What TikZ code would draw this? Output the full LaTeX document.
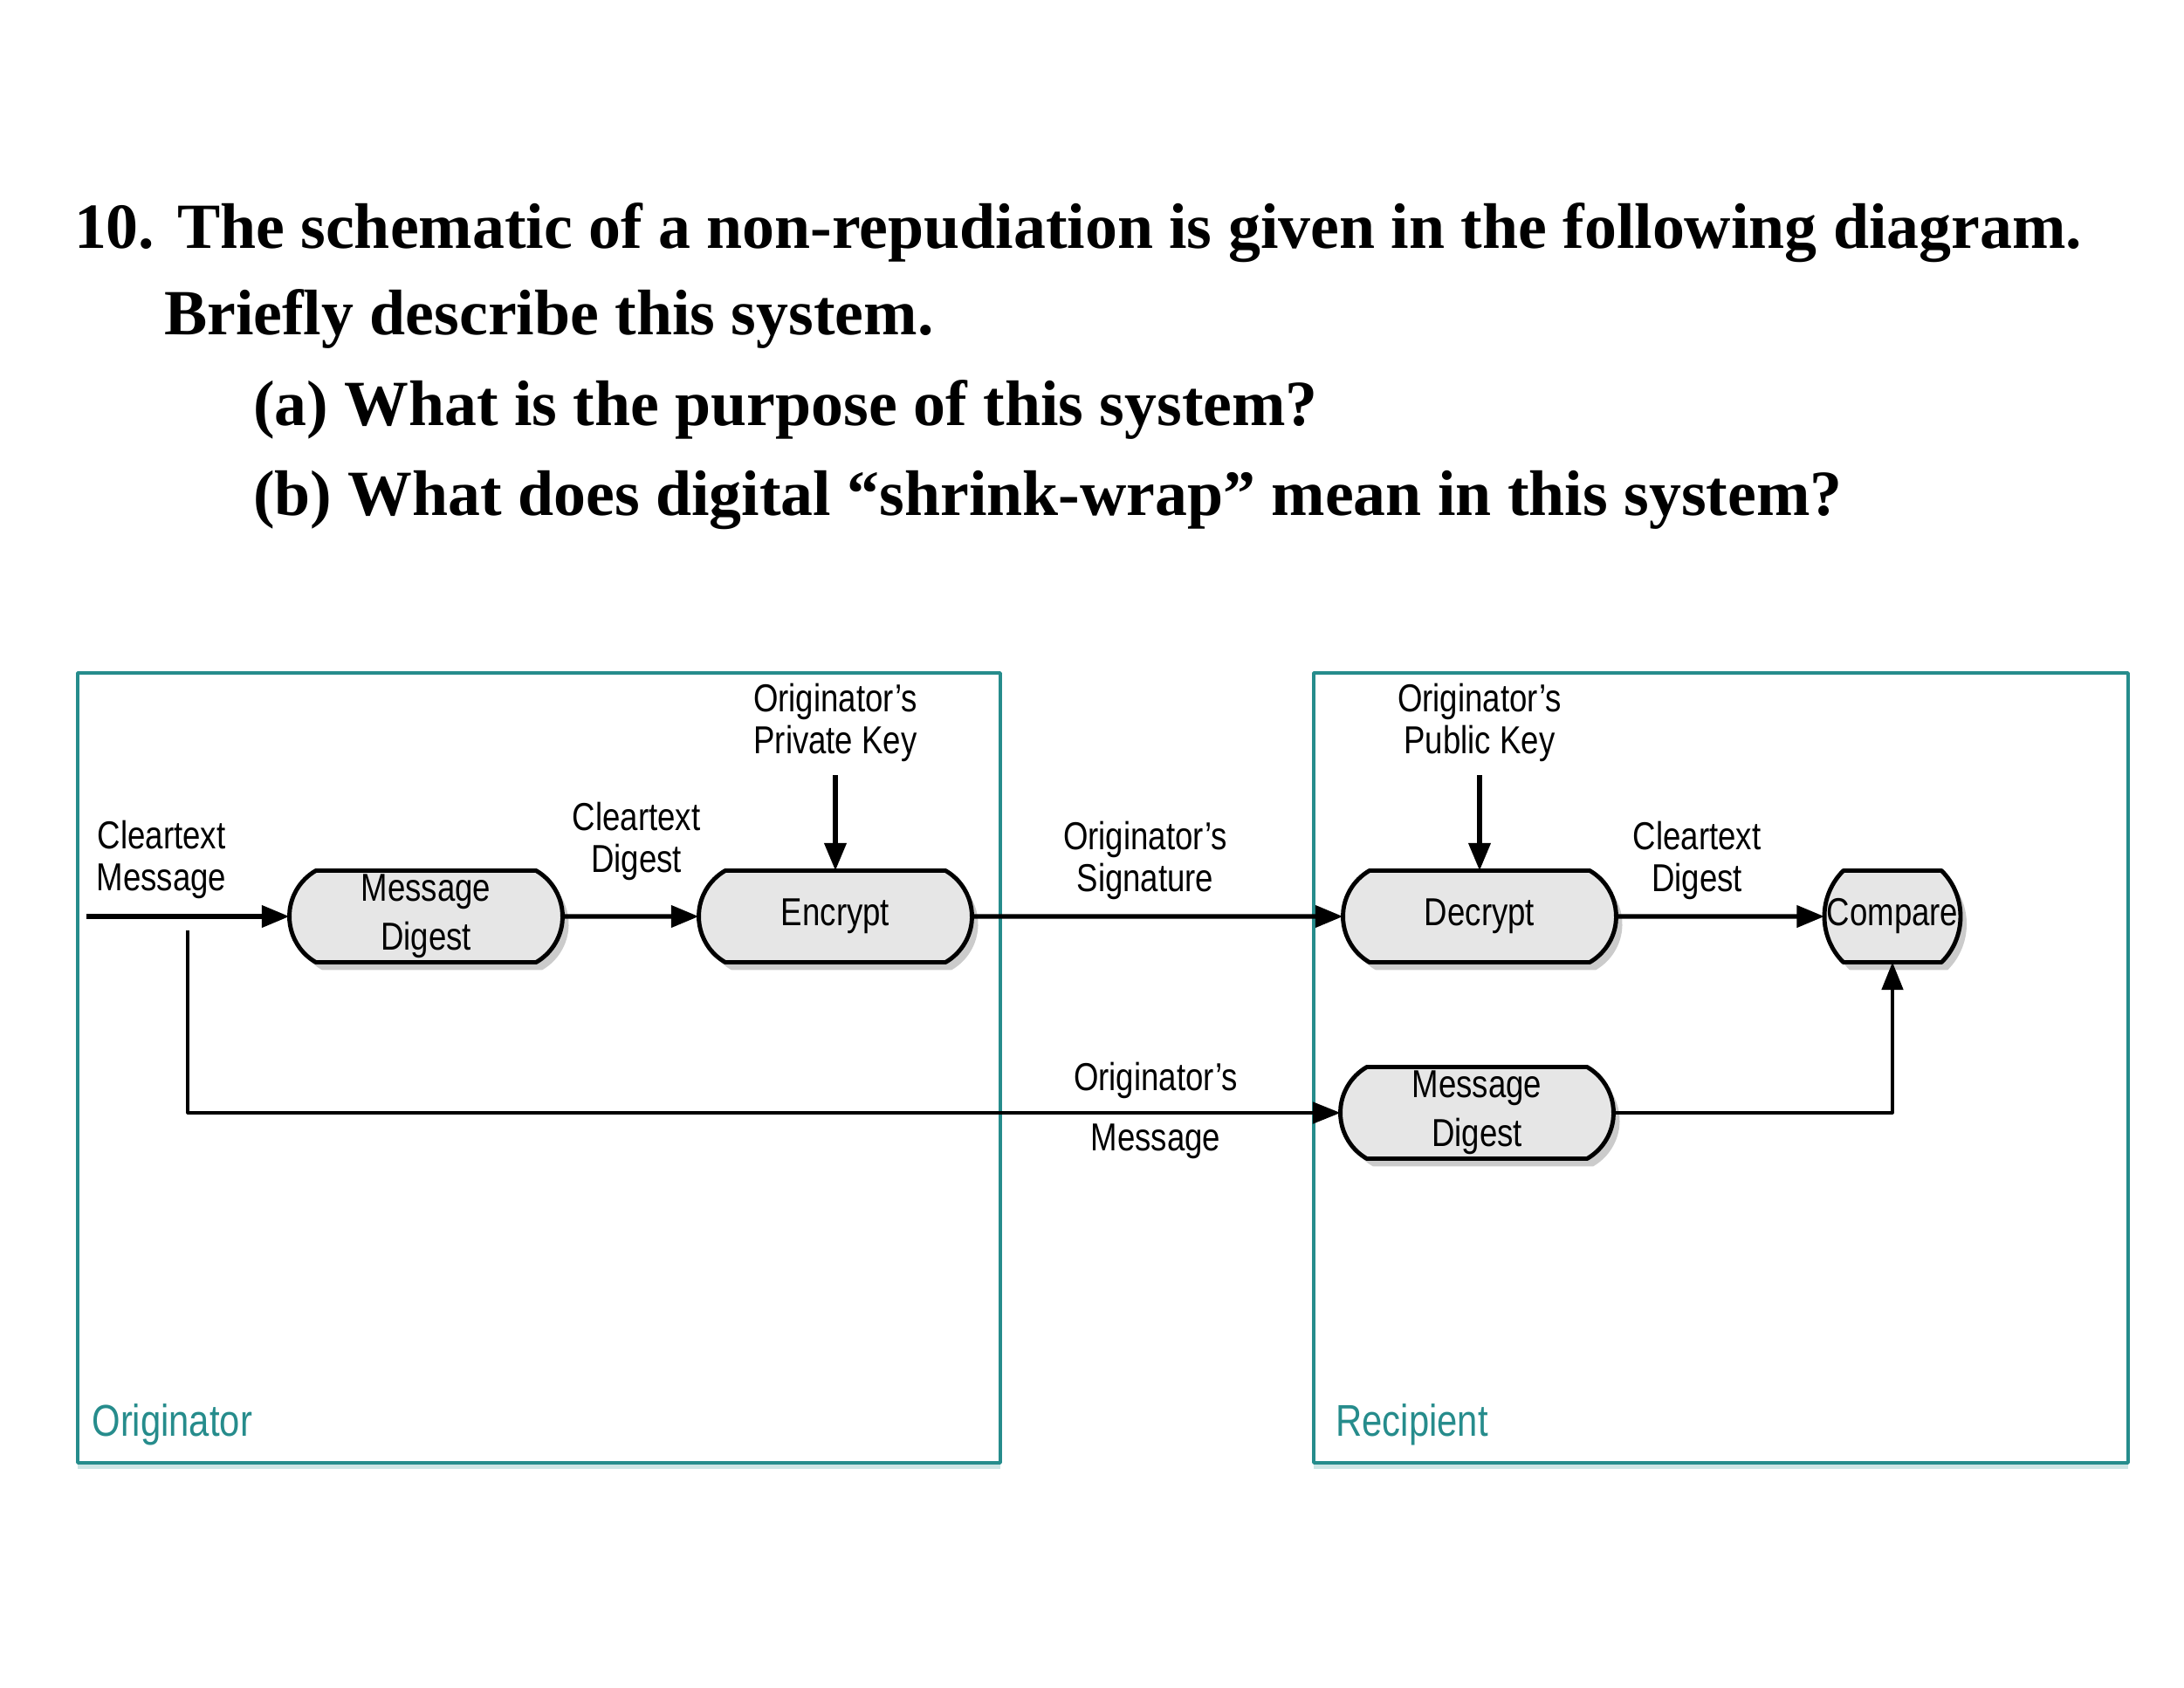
\documentclass[tikz,border=0pt]{standalone}
\usepackage{fontspec}
\setmainfont{Liberation Serif}
\newfontfamily\diagfont[FakeStretch=0.82]{Liberation Sans}
\usetikzlibrary{
    arrows.meta,
    calc,
    positioning,
    shadows,
    shapes.misc
}
\definecolor{frameteal}{RGB}{38,140,140}
\definecolor{boxgray}{RGB}{230,230,230}
\tikzset{
    every picture/.style = {
        > = {Triangle[length=9pt, width=7pt]},
        line join = round
    },
    every node/.style = {
        inner sep = 1pt,
        outer sep = 0pt,
        align = center,
        font = \diagfont\fontsize{12.7}{13.6}\selectfont
    },
    process/.style = {
        rounded rectangle,
        rounded rectangle arc length = 120,
        draw,
        line width = 1.4pt,
        fill = boxgray,
        minimum width = 3.2cm,
        minimum height = 1.05cm,
        drop shadow = {shadow xshift = 2pt, shadow yshift = -2.5pt, fill = black!40}
    },
    frame/.style = {
        draw = frameteal,
        line width = 1pt,
        fill = white,
        drop shadow = {shadow xshift = 0pt, shadow yshift = -2pt, fill = frameteal!45}
    },
    flow/.style = {->, line width = 1.5pt},
    thinflow/.style = {->, line width = 0.9pt},
    question/.style = {
        anchor = base west,
        inner sep = 0pt,
        font = \bfseries\fontsize{21}{28}\selectfont
    },
    partname/.style = {
        anchor = west,
        text = frameteal,
        font = \diagfont\fontsize{14.5}{16}\selectfont
    }
}

\begin{document}
\begin{tikzpicture}
    \useasboundingbox (0,0) rectangle (25.02,-19.33);

    % question text
    \node[question] (qnum)   at (0.85,-2.84) {10.};
    \node[question] (qline1) at (2.03,-2.84) {The schematic of a non-repudiation is given in the following diagram.};
    \node[question] (qline2) at (1.88,-3.83) {Briefly describe this system.};
    \node[question] (qparta) at (2.90,-4.87) {(a) What is the purpose of this system?};
    \node[question] (qpartb) at (2.90,-5.90) {(b) What does digital “shrink-wrap” mean in this system?};

    % the two parties
    \draw[frame] (0.89,-7.71) rectangle (11.46,-16.76);
    \draw[frame] (15.05,-7.71) rectangle (24.38,-16.76);
    \node[partname] (origname)  at (1.02,-16.32) {Originator};
    \node[partname] (recipname) at (15.27,-16.32) {Recipient};

    % processes
    \node[process, font=\diagfont\fontsize{12.7}{16}\selectfont] (md1) at (4.88,-10.5) {Message\\Digest};
    \node[process] (enc) at (9.57,-10.5) {Encrypt};
    \node[process] (dec) at (16.95,-10.5) {Decrypt};
    \node[process, minimum width=1.63cm, rounded rectangle arc length=90] (cmp) at (21.68,-10.5) {\makebox[0pt]{Compare}};
    \node[process, font=\diagfont\fontsize{12.7}{16}\selectfont] (md2) at (16.92,-12.75) {Message\\Digest};

    % labels
    \node (cmlbl)   at (1.85,-9.85)  {Cleartext\\Message};
    \node (cdlbl1)  at (7.29,-9.64)  {Cleartext\\Digest};
    \node (privlbl) at (9.57,-8.28)  {Originator’s\\Private Key};
    \node (siglbl)  at (13.12,-9.86) {Originator’s\\Signature};
    \node (publbl)  at (16.95,-8.28) {Originator’s\\Public Key};
    \node (cdlbl2)  at (19.44,-9.86) {Cleartext\\Digest};
    \node (msglbl1) at (13.24,-12.38) {Originator’s};
    \node (msglbl2) at (13.24,-13.08) {Message};

    % connectors
    \coordinate (msgin)  at (0.99,-10.5);
    \coordinate (branch) at (2.15,-10.66);
    \draw[flow] (msgin) -- (md1);
    \draw[flow] (md1) -- (enc);
    \draw[flow] ([yshift=-0.12cm]privlbl.south) -- (enc.north);
    \draw[flow] (enc) -- (dec);
    \draw[flow] ([yshift=-0.12cm]publbl.south) -- (dec.north);
    \draw[flow] (dec) -- (cmp);
    \draw[thinflow] (branch) |- (md2.west);
    \draw[thinflow] (md2.east) -| (cmp.south);
\end{tikzpicture}
\end{document}
